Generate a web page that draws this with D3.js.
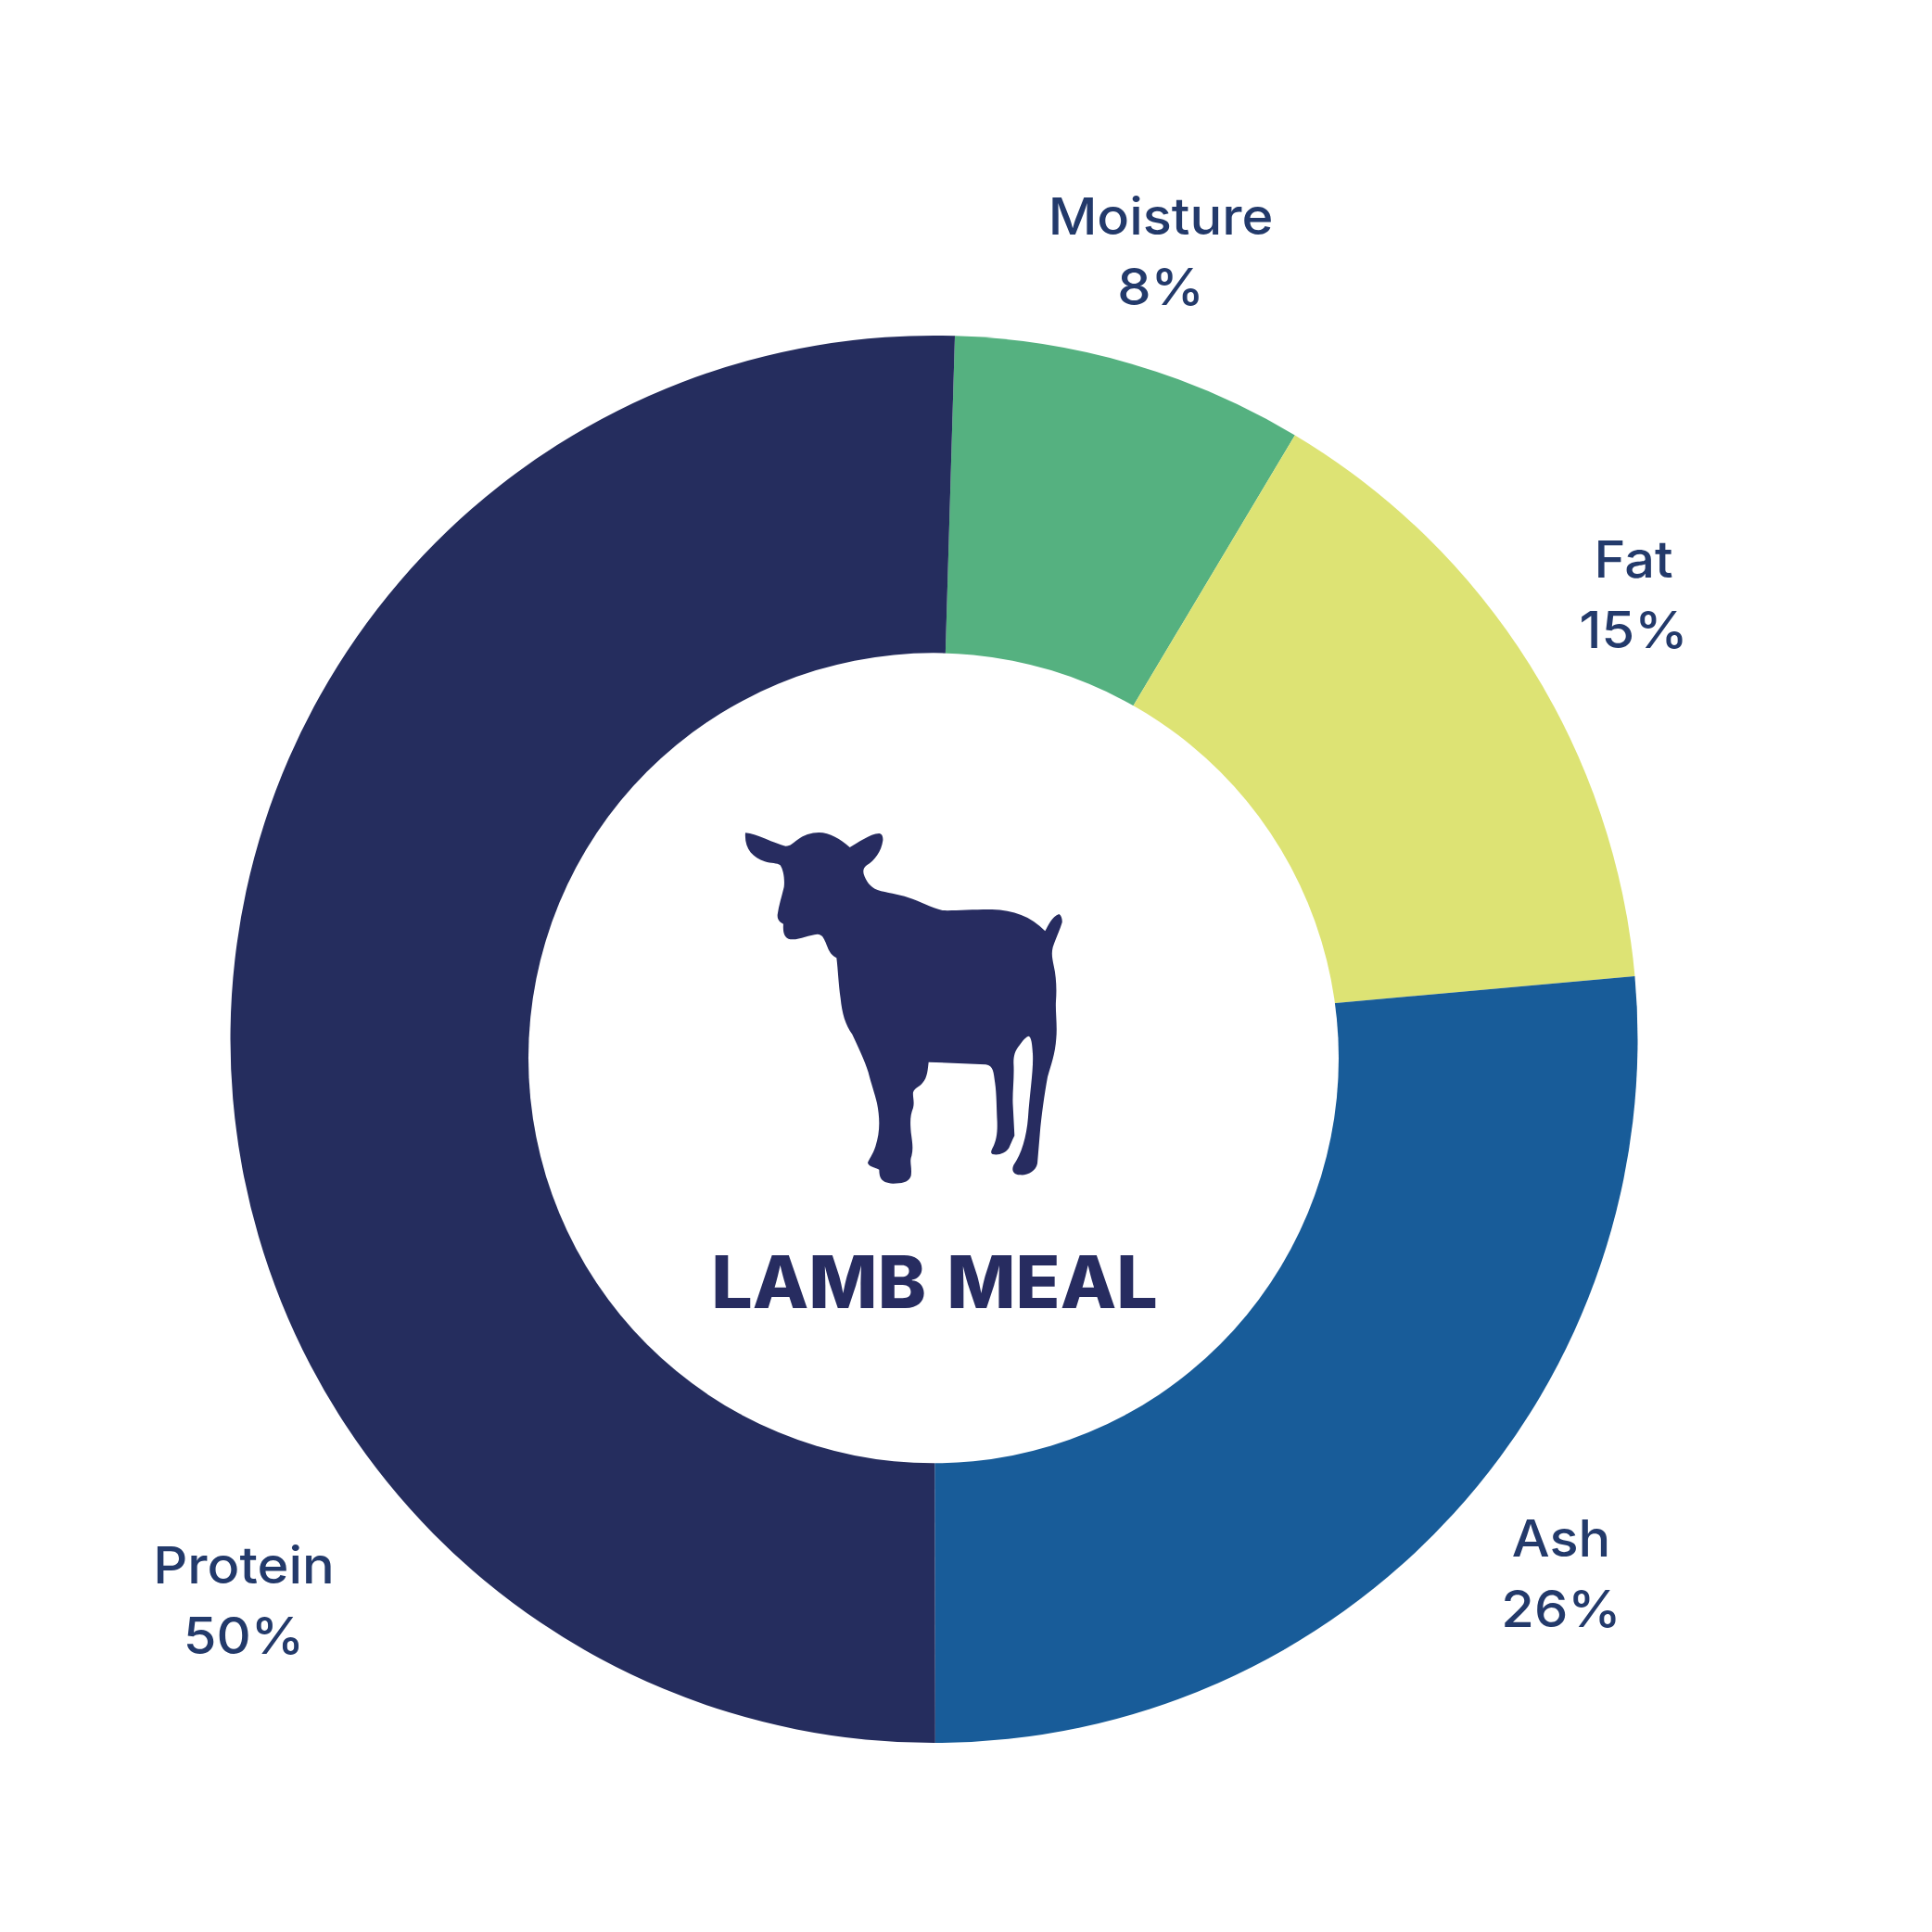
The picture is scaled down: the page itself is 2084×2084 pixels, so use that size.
<!DOCTYPE html>
<meta charset="utf-8">
<script src="https://d3js.org/d3.v7.min.js"></script>
<style>
html, body { margin: 0; background: #fff; }
svg { display: block; }
.label { font-family: Inter, sans-serif; font-weight: 500; font-size: 55px; fill: #233a6b; text-anchor: middle; }
.title { font-family: Inter, sans-serif; font-weight: 800; font-size: 78px; fill: #272c60; text-anchor: middle; word-spacing: 5px; }
</style>
<svg id="chart" width="2084" height="2084"></svg>
<script>
var categories = ["Moisture", "Fat", "Ash", "Protein"]
var values = [8.1, 15, 26.4, 50.5]
var valueLabels = ["8%", "15%", "26%", "50%"]
var colors = ["#55b180", "#dde374", "#185c99", "#252d5e"]
var title = "LAMB MEAL"

var D2R = Math.PI/180
var cx = 1007.5, cy = 1121, outer = 759
var hole = {x: 1007, y: 1141.3, r: 437}
// label anchors, same order as categories
var anchors = [[1252, 253], [1762, 623], [1684, 1679], [263, 1708]]
var lineGap = 76
var stretch = 1.05

var svg = d3.select("#chart")

var pie = d3.pie().sort(null).startAngle(1.7*D2R).endAngle(361.7*D2R)
var arc = d3.arc().innerRadius(0).outerRadius(outer)

svg.append("g")
    .attr("transform", `translate(${cx},${cy})`)
    .selectAll("path")
    .data(pie(values))
    .join("path")
    .attr("d", arc)
    .style("fill", (d, i) => colors[i])

// the hole sits a little lower than the pie centre
svg.append("circle")
    .attr("cx", hole.x)
    .attr("cy", hole.y)
    .attr("r", hole.r)
    .style("fill", "#fff")

categories.forEach(function(name, i){
    let t = svg.append("text")
        .attr("class", "label")
        .attr("transform", `translate(${anchors[i][0]},${anchors[i][1]}) scale(${stretch},1)`)
    t.append("tspan").attr("x", 0).attr("y", 0).text(name)
    t.append("tspan").attr("x", 0).attr("y", lineGap).text(valueLabels[i])
})

// lamb silhouette, traced at 3x
var lamb = "M132,115 C170,118 225,150 262,158 C280,158 285,148 300,138 C320,122 345,114 370,114 C405,114 440,135 470,162 C495,148 535,118 565,117 C575,118 578,128 577,140 C572,175 550,205 525,220 C515,228 512,235 515,248 C522,270 535,290 560,300 C590,310 625,312 660,325 C695,336 735,358 770,366 C800,368 880,362 930,363 C1000,365 1055,385 1102,433 C1112,415 1125,385 1147,378 C1155,382 1158,395 1157,405 C1150,430 1135,460 1127,485 C1122,505 1125,520 1130,545 C1138,580 1140,620 1137,660 C1135,690 1142,740 1138,780 C1135,830 1120,870 1110,905 C1100,960 1090,1030 1085,1090 L1077,1185 C1072,1210 1045,1225 1020,1222 C1000,1220 992,1208 1000,1190 C1025,1155 1042,1100 1047,1035 C1052,960 1065,880 1062,830 C1060,800 1058,775 1048,773 C1035,778 1025,795 1015,808 C1005,822 1000,835 1000,860 C1003,910 995,960 998,1000 L1003,1095 C995,1110 992,1120 985,1135 C975,1152 950,1160 932,1155 C925,1152 927,1145 932,1135 C945,1110 948,1085 947,1050 C945,1010 945,960 940,925 C935,890 935,868 910,865 L725,857 C722,880 722,905 705,925 C695,938 680,940 675,955 C673,970 680,985 675,1005 C665,1030 665,1050 668,1085 C672,1115 676,1135 670,1160 C662,1180 672,1195 668,1225 C662,1245 640,1250 610,1250 C580,1248 565,1240 565,1205 C550,1198 530,1195 528,1183 C530,1175 545,1155 553,1130 C568,1085 568,1040 558,990 C550,955 540,930 530,890 C518,850 495,805 478,767 C455,735 445,700 440,650 C433,600 432,560 427,520 C405,508 400,490 392,470 C385,455 382,445 365,443 C340,445 310,460 285,460 C262,460 252,445 255,410 C245,405 235,398 236,380 C240,350 250,320 257,290 C260,265 255,235 245,220 C235,212 215,215 195,208 C155,195 128,165 132,115 Z"
svg.append("path")
    .attr("d", lamb)
    .attr("transform", "translate(760,860) scale(0.33333)")
    .style("fill", "#272c60")

svg.append("text")
    .attr("class", "title")
    .attr("transform", "translate(1008,1411) scale(1.01,1)")
    .text(title)
</script>
